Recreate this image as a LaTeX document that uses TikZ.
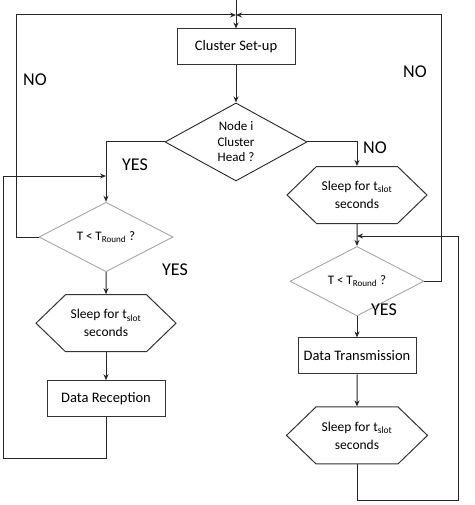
\documentclass[tikz,border=0pt]{standalone}
\usepackage{fontspec}
\setmainfont{Carlito}
\usetikzlibrary{arrows.meta, positioning, shapes.geometric, shapes.symbols}

\begin{document}
\begin{tikzpicture}[
  x=1pt, y=-1pt,
  >={Stealth[length=6pt,width=5pt]},
  line width=1pt,
  procbox/.style={
    draw=black!80,
    align=center,
    font=\fontsize{14.5}{17}\selectfont,
    minimum width=118pt,
    minimum height=36pt,
    inner sep=2pt
  },
  test/.style={
    diamond,
    draw=gray!70,
    line width=0.9pt,
    align=center,
    font=\fontsize{13}{15.5}\selectfont,
    minimum width=134pt,
    minimum height=63pt,
    inner sep=0pt
  },
  sleep/.style={
    signal,
    signal to=west and east,
    signal pointer angle=88,
    draw=black!80,
    align=center,
    font=\fontsize{13.5}{18}\selectfont,
    minimum width=140pt,
    minimum height=57pt,
    inner sep=0pt
  },
  answer/.style={font=\fontsize{18}{18}\selectfont},
  link/.style={->, draw=black!85}
]
\useasboundingbox (0,0) rectangle (474,505);

% Mise en place
\node[procbox] (setup) at (236,47) {Cluster Set-up};
\node[test, draw=black!85, minimum width=142pt, minimum height=78pt,
      below=37pt of setup] (head) {Node i\\Cluster\\Head ?};

% Branche gauche : tête de cluster
\node[test] (tl) at (106,237) {T < T\textsubscript{Round} ?};
\node[sleep, below=22pt of tl] (sl) {Sleep for t\textsubscript{slot}\\seconds};
\node[procbox, below=28pt of sl] (rx) {Data Reception};

% Branche droite : membre
\node[sleep] (sr) at (357,195) {Sleep for t\textsubscript{slot}\\seconds};
\node[test, below=22pt of sr] (tr) {T < T\textsubscript{Round} ?};
\node[procbox, below=21pt of tr] (tx) {Data Transmission};
\node[sleep, minimum width=141pt, below=32pt of tx] (sr2) {Sleep for t\textsubscript{slot}\\seconds};

% Points de jonction
\coordinate (top) at (setup.north |- 0,0);
\coordinate (merge) at (setup.north |- 0,15);
\coordinate (jl) at (tl.north |- 0,176);
\coordinate (jr) at (tr.north |- 0,236);
\coordinate (cl) at (3,458);
\coordinate (cr) at (458,500);

% Etiquettes
\node[answer] (no1) at (35,80) {NO};
\node[answer] (no2) at (415,72) {NO};
\node[answer] (no3) at (375,148) {NO};
\node[answer] (yes1) at (135,165) {YES};
\node[answer] (yes2) at (175,270) {YES};
\node[answer] (yes3) at (384,310) {YES};

% Connexions principales
\draw[link] (top) -- (setup);
\draw[link] (setup) -- (head);
\draw[link] (head.west) -| (tl.north);
\draw[link] (head.east) -| (sr.north);

\draw[link] (tl) -- (sl);
\draw[link] (sl) -- (rx);
\draw[link] (sr) -- (tr);
\draw[link] (tr) -- (tx);
\draw[link] (tx) -- (sr2);

% Boucles NO vers le haut
\draw[link] (tl.west) -- ++(-22,0) |- (merge);
\draw[link] (tr.east) -- ++(17,0) |- (merge);

% Boucles de retour
\draw[link] (rx.south) |- (cl) |- (jl);
\draw[link] (sr2.south) |- (cr) |- (jr);

\end{tikzpicture}
\end{document}
